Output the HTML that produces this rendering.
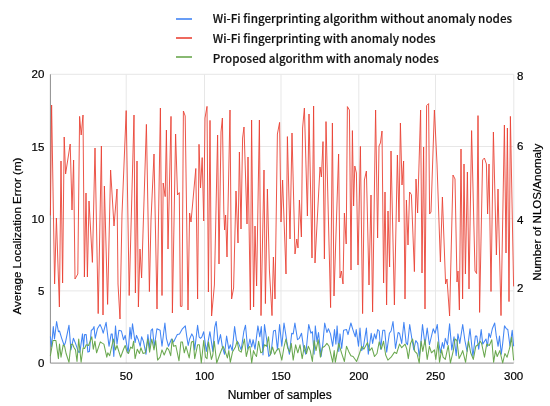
<!DOCTYPE html>
<html><head><meta charset="utf-8"><title>Average Localization Error</title>
<style>
html,body{margin:0;padding:0;background:#fff;}
body{width:550px;height:406px;overflow:hidden;}
svg{display:block;filter:blur(0.3px);}
.ax text{font-family:"Liberation Sans",Arial,sans-serif;font-size:11.5px;fill:#000;stroke:#000;stroke-width:0.2px;}
.lb text{font-family:"Liberation Sans",Arial,sans-serif;font-size:11.6px;fill:#000;stroke:#000;stroke-width:0.2px;}
.lg text{font-family:"Noto Sans CJK SC","Liberation Sans",sans-serif;font-weight:500;font-size:11.65px;fill:#111;stroke:#111;stroke-width:0.15px;}
.grid line{stroke:#e7e7e7;stroke-width:1;}
.s{fill:none;stroke-width:0.9;stroke-linejoin:round;stroke-linecap:round;}
</style></head><body>
<svg width="550" height="406" viewBox="0 0 550 406">
<rect width="550" height="406" fill="#fff"/>
<g class="grid"><line x1="50.4" x2="513.7" y1="290.9" y2="290.9"/><line x1="50.4" x2="513.7" y1="218.7" y2="218.7"/><line x1="50.4" x2="513.7" y1="146.5" y2="146.5"/><line x1="50.4" x2="513.7" y1="74.3" y2="74.3"/><line x1="126.2" x2="126.2" y1="74.3" y2="363.1"/><line x1="204.5" x2="204.5" y1="74.3" y2="363.1"/><line x1="281.0" x2="281.0" y1="74.3" y2="363.1"/><line x1="358.8" x2="358.8" y1="74.3" y2="363.1"/><line x1="435.5" x2="435.5" y1="74.3" y2="363.1"/><line x1="513.8" x2="513.8" y1="74.3" y2="363.1"/></g>
<line x1="50.4" x2="50.4" y1="74.3" y2="363.1" stroke="#8c8c8c" stroke-width="1"/>
<line x1="50.4" x2="513.7" y1="363.1" y2="363.1" stroke="#8c8c8c" stroke-width="1"/>
<path class="s" style="stroke-width:1.05" stroke="#4285f4" d="M50.4,336.8 L51.5,347.0 L53.3,326.6 L54.5,339.0 L56.6,321.5 L58.4,331.7 L59.5,331.0 L61.7,338.3 L64.2,345.5 L65.4,342.6 L69.0,325.2 L70.9,349.9 L73.4,338.3 L75.5,343.4 L78.5,352.1 L79.9,352.1 L82.5,333.9 L83.5,347.0 L84.6,334.6 L86.2,334.6 L87.9,352.1 L89.4,351.4 L91.3,330.3 L92.7,329.5 L94.0,326.6 L95.2,338.3 L97.4,328.8 L100.0,324.5 L101.7,328.1 L103.2,333.2 L106.1,322.3 L109.0,346.3 L111.2,333.9 L112.2,333.9 L113.8,356.5 L115.5,325.9 L117.0,344.1 L118.9,330.3 L121.4,331.0 L123.5,339.7 L125.2,335.4 L128.1,353.1 L130.0,327.4 L131.2,339.0 L132.5,323.7 L135.1,342.6 L136.5,335.4 L138.3,339.7 L140.2,346.3 L141.6,336.8 L143.4,341.2 L146.0,354.3 L147.9,334.6 L149.6,349.2 L151.1,330.3 L152.5,328.8 L154.3,347.0 L156.9,328.8 L160.1,330.3 L162.0,346.3 L164.9,323.0 L166.4,338.3 L168.5,346.3 L171.5,339.0 L173.6,341.9 L177.3,334.6 L179.5,333.9 L182.4,328.8 L185.3,325.9 L186.7,336.1 L188.2,345.5 L189.6,339.0 L191.8,333.9 L193.3,336.8 L194.7,349.9 L197.6,325.2 L199.1,336.8 L200.5,338.3 L201.9,336.8 L203.7,331.7 L206.3,351.4 L209.9,331.7 L212.8,351.4 L214.7,327.4 L216.2,321.5 L218.2,344.1 L220.5,334.6 L222.3,346.3 L224.5,354.3 L226.6,336.1 L228.8,349.2 L230.3,344.8 L232.2,350.6 L234.6,326.6 L236.5,340.5 L238.3,342.6 L241.2,349.9 L243.8,331.7 L245.5,325.2 L247.7,349.2 L249.9,339.0 L251.7,347.0 L253.1,339.7 L255.0,349.2 L257.9,325.9 L259.8,336.8 L261.3,326.6 L263.0,355.0 L264.5,324.5 L266.6,339.0 L268.8,356.5 L271.0,353.5 L273.5,331.0 L275.4,330.3 L277.5,349.9 L279.6,324.5 L281.8,346.3 L284.0,323.0 L286.9,341.9 L289.4,354.3 L291.7,333.2 L293.2,333.9 L294.9,323.0 L297.5,339.7 L299.3,338.3 L301.5,333.2 L303.6,347.7 L305.8,354.3 L308.7,324.5 L310.9,333.2 L312.4,331.7 L314.1,354.3 L315.3,325.9 L317.0,341.9 L318.5,332.5 L321.1,356.5 L322.8,344.1 L324.7,323.0 L326.9,332.5 L328.4,328.8 L330.5,333.9 L332.7,346.3 L334.5,329.5 L335.9,344.1 L337.1,325.9 L338.8,351.4 L340.0,333.9 L341.7,348.5 L343.6,330.3 L346.5,329.5 L348.0,334.6 L350.9,323.0 L353.1,330.3 L355.3,336.8 L356.2,329.5 L358.5,346.3 L360.0,328.1 L361.7,350.6 L363.5,346.3 L366.4,328.1 L368.3,354.3 L371.2,333.2 L372.6,343.4 L374.5,333.9 L376.0,339.0 L377.7,329.5 L379.2,331.0 L380.6,349.2 L382.8,330.3 L384.7,330.3 L386.7,352.1 L389.4,333.2 L391.1,331.0 L393.0,321.5 L395.5,348.5 L398.1,332.5 L399.5,333.2 L401.7,343.4 L403.9,322.3 L406.1,342.6 L407.5,344.8 L409.7,324.5 L411.9,339.0 L413.8,349.9 L415.8,340.5 L417.7,343.4 L419.2,356.5 L420.6,346.3 L422.5,324.5 L425.0,344.8 L427.2,328.1 L429.4,344.8 L430.8,339.0 L433.2,328.8 L435.1,333.2 L437.3,324.5 L439.0,344.1 L440.5,352.8 L442.4,342.6 L443.8,348.5 L445.3,338.3 L447.5,344.8 L449.6,323.7 L451.8,349.9 L454.0,336.8 L456.2,355.7 L457.9,333.9 L459.8,343.4 L462.7,324.5 L464.9,340.5 L467.1,351.4 L470.0,328.8 L472.9,356.5 L475.4,336.1 L476.8,336.1 L478.7,349.2 L481.2,329.5 L482.7,344.1 L486.0,339.0 L487.5,346.3 L488.9,333.2 L490.4,337.5 L492.3,328.8 L494.7,323.0 L496.2,335.4 L498.1,346.3 L499.5,336.1 L501.3,354.3 L502.7,343.4 L504.5,325.9 L506.4,328.8 L507.8,329.5 L510.0,346.3 L512.2,330.3 L513.6,346.0"/>
<path class="s" stroke="#ea4335" d="M50.4,215.0 L51.6,105.0 L54.6,284.0 L56.4,218.0 L59.4,307.0 L61.0,161.0 L62.6,283.0 L64.2,137.0 L65.6,174.0 L70.2,144.0 L72.0,210.0 L73.6,160.0 L75.0,279.0 L77.8,274.0 L79.6,116.4 L81.2,135.0 L83.0,115.0 L84.4,277.0 L86.0,193.0 L87.4,277.0 L89.0,201.0 L92.4,262.4 L95.0,148.0 L98.2,313.6 L101.4,146.0 L103.0,315.0 L104.4,186.0 L107.6,304.4 L110.6,170.0 L114.0,226.0 L117.0,189.0 L118.0,284.0 L120.0,319.0 L122.0,214.0 L126.2,110.6 L129.2,295.5 L134.0,115.0 L135.4,293.0 L137.0,161.0 L138.4,307.0 L140.0,249.0 L141.6,278.0 L146.4,124.4 L149.4,291.6 L151.0,220.0 L154.0,154.0 L157.0,309.0 L160.4,108.0 L162.0,295.5 L163.2,183.0 L165.2,196.6 L166.4,130.0 L168.0,249.0 L171.0,116.4 L172.4,313.0 L175.6,134.0 L177.5,195.0 L179.3,192.6 L180.4,306.4 L182.0,306.4 L183.4,111.0 L185.2,116.0 L188.0,310.0 L189.6,213.0 L191.0,222.0 L195.8,168.5 L197.6,299.0 L199.0,144.3 L200.5,188.0 L202.2,157.6 L203.7,221.0 L205.0,118.0 L207.0,106.4 L208.4,292.0 L210.0,120.4 L211.6,316.0 L214.4,285.0 L217.6,135.0 L219.0,264.0 L221.0,132.0 L222.4,118.0 L223.8,211.0 L224.6,230.0 L225.6,215.0 L227.0,257.0 L230.0,110.0 L231.6,299.0 L233.6,288.0 L236.0,191.0 L238.0,243.0 L239.4,152.0 L241.0,229.0 L242.6,138.0 L244.0,127.0 L247.0,224.0 L248.0,157.0 L250.4,310.0 L251.6,120.0 L253.6,307.0 L255.0,226.0 L256.6,286.0 L259.4,120.0 L261.0,315.6 L264.0,170.0 L265.4,303.6 L267.4,189.0 L269.4,270.0 L272.0,315.6 L273.4,257.0 L275.0,299.0 L277.4,134.0 L279.6,122.4 L281.0,222.0 L282.6,180.0 L286.0,274.0 L287.4,136.6 L290.0,239.0 L292.0,133.0 L295.0,254.0 L296.8,239.0 L298.0,248.0 L299.4,200.0 L301.4,237.0 L302.6,128.0 L304.4,108.0 L307.4,216.0 L309.0,114.0 L312.0,258.0 L313.6,106.0 L315.0,263.0 L320.0,167.0 L321.4,177.0 L323.0,141.6 L324.4,259.0 L326.0,121.6 L330.6,307.6 L332.4,123.0 L334.0,296.0 L338.6,154.0 L340.0,278.0 L341.4,271.0 L343.0,284.0 L344.4,213.0 L346.2,244.0 L347.4,106.6 L349.4,110.0 L351.0,270.0 L352.4,130.6 L353.6,206.0 L354.8,166.0 L356.4,173.0 L358.0,265.0 L360.4,146.4 L362.6,313.6 L364.4,180.0 L366.4,171.0 L369.0,285.0 L371.0,195.0 L372.6,312.0 L375.6,110.0 L377.6,238.0 L379.0,146.0 L380.4,143.0 L382.0,131.0 L383.6,283.0 L385.0,192.0 L386.6,305.0 L388.0,211.0 L389.6,267.0 L391.0,151.0 L394.4,305.0 L397.4,155.0 L399.0,222.0 L400.4,123.0 L402.0,185.0 L403.6,161.0 L405.0,299.0 L406.4,200.0 L408.0,245.0 L409.6,192.0 L411.4,194.6 L414.4,271.6 L416.0,179.0 L417.6,213.0 L420.6,110.0 L422.0,273.0 L423.6,147.0 L425.0,309.0 L426.6,105.6 L428.6,103.6 L429.6,214.0 L431.0,212.0 L434.4,110.0 L437.0,164.0 L440.4,262.0 L442.4,197.0 L445.6,284.0 L447.0,279.0 L449.6,316.0 L453.0,175.0 L455.0,179.0 L457.0,282.0 L458.0,271.0 L459.4,310.0 L461.0,149.0 L462.6,299.0 L464.0,164.0 L465.4,274.0 L467.4,172.0 L469.0,289.0 L471.6,130.6 L475.0,271.0 L476.6,273.6 L478.0,115.6 L479.6,312.4 L482.6,160.0 L484.4,158.0 L486.4,164.0 L487.6,214.0 L489.0,164.0 L491.0,291.5 L493.4,132.0 L496.4,255.0 L498.0,189.0 L501.0,315.6 L504.4,125.0 L506.0,253.0 L507.4,128.0 L509.0,301.6 L510.4,116.4 L513.6,286.0"/>
<path class="s" style="stroke-width:1.05" stroke="#6aa84f" d="M50.4,355.7 L53.0,340.5 L55.9,340.5 L58.4,358.6 L59.5,344.1 L61.0,357.2 L63.2,344.8 L64.6,346.3 L66.1,353.5 L69.0,362.3 L70.9,344.8 L72.6,344.1 L74.1,347.7 L75.5,349.9 L77.0,361.5 L78.7,339.0 L81.1,362.3 L83.1,347.7 L84.6,348.5 L86.2,344.8 L88.6,345.5 L91.8,336.8 L93.3,349.2 L94.9,341.2 L96.6,352.8 L100.3,341.9 L102.5,343.4 L103.9,344.1 L106.8,357.2 L107.8,352.8 L109.7,355.7 L113.4,339.0 L115.5,349.9 L117.0,345.5 L120.6,357.2 L123.5,349.2 L125.2,345.5 L127.1,352.1 L128.5,353.5 L130.7,347.0 L132.2,348.5 L133.6,341.2 L135.1,358.6 L137.3,349.2 L139.5,353.5 L140.9,347.7 L143.1,353.5 L145.3,352.8 L147.9,339.0 L149.6,352.1 L151.8,339.0 L154.0,349.9 L155.7,340.5 L157.6,360.1 L160.1,357.2 L162.0,349.9 L164.2,355.0 L167.1,347.7 L168.8,349.9 L170.7,355.7 L172.2,339.0 L173.6,346.3 L175.8,345.5 L179.0,360.8 L180.9,341.9 L182.4,341.9 L184.3,352.8 L186.0,346.3 L189.2,357.9 L191.5,341.9 L193.3,341.2 L194.7,358.6 L197.6,344.8 L199.4,344.8 L201.3,363.0 L203.7,340.5 L205.5,357.2 L207.0,358.6 L208.5,341.9 L211.4,359.4 L212.8,355.0 L214.3,341.2 L216.7,363.0 L220.1,353.5 L223.0,346.3 L225.2,351.4 L227.4,357.9 L228.8,350.6 L230.3,362.3 L232.5,352.1 L235.4,347.0 L237.1,341.2 L239.0,350.6 L241.2,352.1 L244.4,339.0 L246.3,356.5 L248.5,347.7 L249.9,346.3 L251.7,363.0 L253.5,350.6 L255.0,354.3 L256.5,356.5 L258.6,341.2 L260.8,352.8 L262.3,352.1 L264.5,344.8 L266.6,346.3 L268.5,336.8 L270.3,355.0 L272.5,347.0 L274.6,354.3 L276.8,349.9 L278.9,348.5 L281.8,360.1 L284.0,347.0 L285.9,339.0 L287.6,347.7 L289.8,352.1 L291.3,343.4 L293.2,360.1 L295.6,344.8 L297.8,352.8 L300.0,344.8 L302.2,358.6 L304.4,345.5 L306.5,353.5 L308.3,346.3 L310.2,350.6 L312.4,361.5 L314.1,340.5 L316.0,350.6 L318.2,339.7 L320.4,357.2 L322.3,347.7 L324.7,346.3 L326.9,343.4 L329.1,346.3 L332.7,362.3 L334.2,350.6 L335.3,362.3 L338.8,343.4 L341.5,352.8 L344.4,361.5 L346.5,346.3 L348.7,351.4 L350.9,355.7 L353.1,356.5 L356.6,361.5 L359.5,353.5 L361.7,346.3 L363.9,349.2 L367.5,342.6 L369.7,350.6 L371.9,347.7 L374.5,356.5 L377.0,353.5 L379.2,341.9 L381.4,349.2 L383.5,341.2 L385.7,355.0 L387.9,360.1 L391.1,357.2 L394.5,352.1 L396.6,353.5 L399.5,344.1 L401.7,347.7 L405.1,344.1 L406.8,349.2 L408.3,358.6 L410.5,343.4 L412.6,339.0 L414.8,351.4 L417.0,353.5 L419.2,363.0 L421.1,341.2 L422.8,351.4 L425.0,339.7 L427.2,359.4 L429.4,346.3 L431.5,352.8 L434.4,349.9 L435.8,359.4 L438.0,341.9 L439.5,362.3 L441.6,349.9 L443.1,357.2 L445.3,359.4 L448.2,345.5 L450.4,363.0 L453.3,350.6 L455.0,339.0 L456.9,340.5 L459.1,358.6 L461.3,354.3 L462.7,350.6 L465.6,362.3 L468.5,341.2 L470.7,352.8 L473.3,359.4 L475.8,346.3 L478.0,344.8 L480.2,341.2 L481.6,343.4 L484.5,357.2 L486.7,344.1 L489.3,345.5 L491.8,339.7 L493.6,362.3 L495.5,350.6 L497.2,356.5 L499.8,350.6 L502.7,363.0 L504.9,353.5 L507.1,357.2 L509.3,349.2 L510.0,346.3 L511.5,337.0 L513.6,360.0"/>
<g class="ax"><text x="126.2" y="380.2" text-anchor="middle">50</text><text x="204.5" y="380.2" text-anchor="middle">100</text><text x="281.0" y="380.2" text-anchor="middle">150</text><text x="358.8" y="380.2" text-anchor="middle">200</text><text x="435.5" y="380.2" text-anchor="middle">250</text><text x="513.6" y="380.2" text-anchor="middle">300</text><text x="44.3" y="367.1" text-anchor="end">0</text><text x="44.3" y="294.9" text-anchor="end">5</text><text x="44.3" y="222.7" text-anchor="end">10</text><text x="44.3" y="150.5" text-anchor="end">15</text><text x="44.3" y="78.3" text-anchor="end">20</text><text x="517" y="80.1">8</text><text x="517" y="150.0">6</text><text x="517" y="224.0">4</text><text x="517" y="292.1">2</text></g>
<g class="lb">
<text x="279.7" y="399" text-anchor="middle" style="font-size:12px">Number of samples</text>
<text transform="translate(21.2,236.1) rotate(-90)" text-anchor="middle">Average Localization Error (m)</text>
<text transform="translate(540.7,212.2) rotate(-90)" text-anchor="middle">Number of NLOS/Anomaly</text>
</g>
<g class="lg">
<line x1="176" x2="192" y1="19" y2="19" stroke="#4285f4" stroke-width="1.6"/>
<line x1="176" x2="192" y1="38" y2="38" stroke="#ea4335" stroke-width="1.6"/>
<line x1="176" x2="192" y1="57" y2="57" stroke="#6aa84f" stroke-width="1.6"/>
<text x="212.8" y="23.3">Wi-Fi fingerprinting algorithm without anomaly nodes</text>
<text x="212.8" y="42.8">Wi-Fi fingerprinting with anomaly nodes</text>
<text x="212.8" y="62.6">Proposed algorithm with anomaly nodes</text>
</g>
</svg>
</body></html>
